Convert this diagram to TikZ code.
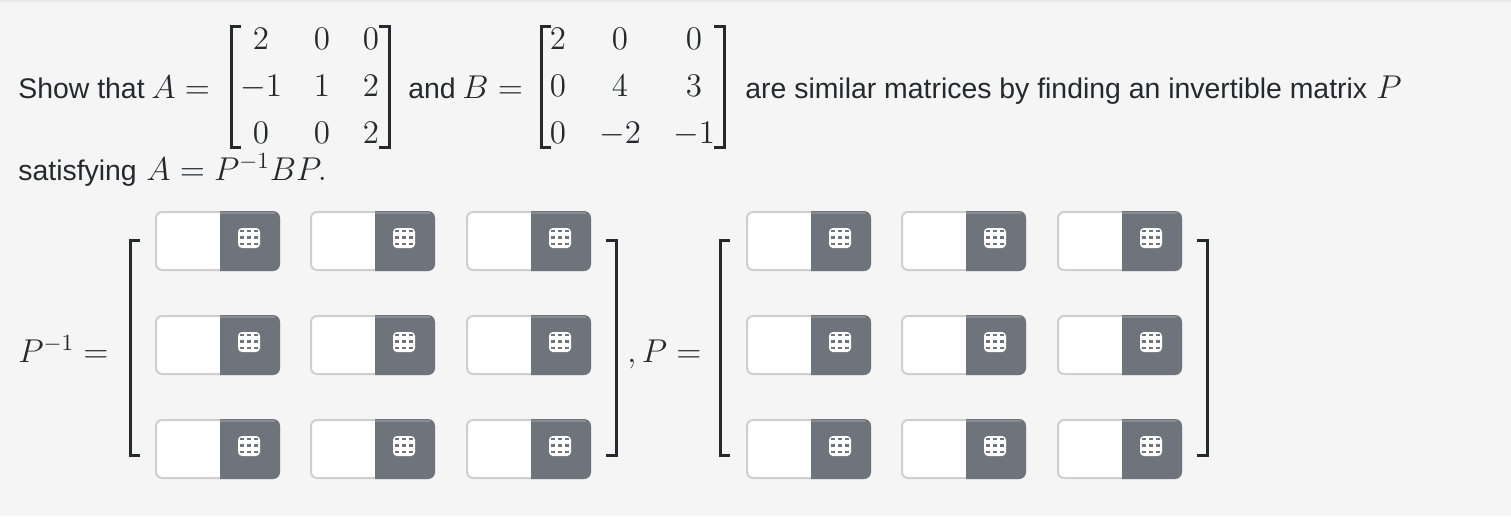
\RequirePackage{fix-cm}
\documentclass[tikz,border=0pt]{standalone}
\usepackage{amsmath}
\usepackage{fontspec}
\setmainfont{Liberation Sans}
\usetikzlibrary{positioning}
\definecolor{pagebg}{HTML}{F5F5F5}
\definecolor{btngray}{HTML}{6D747B}
\definecolor{btntop}{HTML}{868C92}
\definecolor{boxline}{HTML}{CFCFCF}
\definecolor{inkdark}{HTML}{26282A}
\newcommand{\mathsize}{\fontsize{16.5}{19}\selectfont}
\tikzset{
	txt/.style={anchor=base west,inner sep=0pt,text=inkdark,font=\fontsize{14.2}{17}\selectfont},
	mth/.style={anchor=base west,inner sep=0pt,text=inkdark,font=\mathsize},
	ent/.style={anchor=base,inner sep=0pt,text=inkdark,font=\mathsize},
	smallbr/.style={draw=inkdark,line width=1.5pt,miter limit=10},
	bigbr/.style={draw=inkdark,line width=1.5pt,miter limit=10},
	cellbox/.style={draw=boxline,line width=1pt,fill=white,rounded corners=3pt,minimum width=61.5pt,minimum height=29pt,inner sep=0pt,anchor=north west}
}
\begin{document}
\begin{tikzpicture}[x=0.5pt,y=-0.5pt]
	\useasboundingbox (0,0) rectangle (1511,516);
	\fill[pagebg] (0,0) rectangle (1511,516);
	\fill[black!9] (0,0) rectangle (1511,2);
	% first line
	\node[txt] (show) at (18,98) {Show that};
	\node[mth] (eqA) at (151,98) {$A=$};
	\node[txt] (and) at (408,98) {and};
	\node[mth] (eqB) at (462,98) {$B=$};
	\node[txt] (are) at (745,98) {are similar matrices by finding an invertible matrix};
	\node[mth] (varP) at (1376,98) {$P$};
	\node[txt] (sat) at (18,180) {satisfying};
	\node[mth] (eqAB) at (146,180) {$A=P^{-1}BP.$};
	\node[mth] (lhsinv) at (18,362) {$P^{-1}=$};
	\node[mth] (lhsP) at (627,362) {$,P=$};
	% matrix A
	\foreach \name/\x/\y/\val in {a1/261/49/2,a2/322/49/0,a3/371/49/0,a4/261/96/-1,a5/322/96/1,a6/371/96/2,a7/261/143/0,a8/322/143/0,a9/371/143/2}
		\node[ent] (\name) at (\x,\y) {$\val$};
	% matrix B
	\foreach \name/\x/\y/\val in {b1/558/49/2,b2/620/49/0,b3/694/49/0,b4/558/96/0,b5/620/96/4,b6/694/96/3,b7/558/143/0,b8/620/143/-2,b9/694/143/-1}
		\node[ent] (\name) at (\x,\y) {$\val$};
	\draw[smallbr] (241,26) -| (231,147) -- (241,147);
	\draw[smallbr] (379,26) -| (389,147) -- (379,147);
	\draw[smallbr] (551,26) -| (541,147) -- (551,147);
	\draw[smallbr] (714,26) -| (724,147) -- (714,147);
	\draw[bigbr] (140,240) -| (130,455) -- (140,455);
	\draw[bigbr] (606,240) -| (616,455) -- (606,455);
	\draw[bigbr] (730,240) -| (720,455) -- (730,455);
	\draw[bigbr] (1197,240) -| (1207,455) -- (1197,455);
	% answer boxes
	\foreach \x in {155,310,466,746,901,1057}
		\foreach \y in {211,315,419} {
			\node[cellbox] (box\x\y) at (\x,\y) {};
			\fill[btngray] (\x+65,\y) [rounded corners=3.5pt] -- (\x+125,\y) -- (\x+125,\y+60) -- (\x+100,\y+60) [sharp corners] -- (\x+65,\y+60) -- cycle;
			\fill[btntop] (\x+65,\y+1) rectangle (\x+120,\y+3);
			\fill[white,rounded corners=2pt] (\x+83,\y+17) rectangle (\x+105,\y+37);
			\foreach \i in {87,94,101}
				\foreach \j in {20,26.3,32.7}
					\fill[btngray] (\x+\i-1.7,\y+\j-1.2) rectangle (\x+\i+1.7,\y+\j+1.2);
		}
\end{tikzpicture}
\end{document}
